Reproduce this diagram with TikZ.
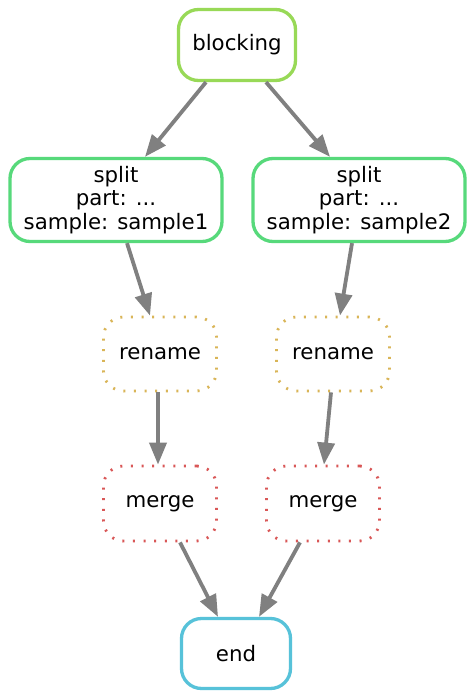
\documentclass[tikz,border=0pt]{standalone}
\usepackage{fontspec}
\setmainfont{DejaVu Sans}
\usetikzlibrary{arrows.meta,calc}
\definecolor{cblock}{RGB}{152,217,87}
\definecolor{csplit}{RGB}{87,217,123}
\definecolor{crename}{RGB}{217,181,87}
\definecolor{cmerge}{RGB}{217,87,87}
\definecolor{cend}{RGB}{87,194,217}
\definecolor{edgegray}{RGB}{128,128,128}
\begin{document}
\begin{tikzpicture}[x=1pt,y=-1pt,
  base/.style={rectangle, rounded corners=20pt, align=center, inner sep=0pt,
    font=\fontsize{21.3}{23.5}\selectfont},
  solidbox/.style={base, draw=#1, line width=3.3pt},
  dotbox/.style={base, draw=#1, line width=2.8pt, dash pattern=on 2pt off 8.6pt},
  edge/.style={draw=edgegray, line width=3.8pt, -{Triangle[length=22pt,width=17pt]}}]
\useasboundingbox[fill=white] (0,0) rectangle (474,700);
\node[solidbox=cblock, minimum width=117pt, minimum height=71pt] (blocking) at (237,45) {blocking};
\node[solidbox=csplit, minimum width=212pt, minimum height=83pt] (split1) at (116,200) {split\\part: ...\\sample: sample1};
\node[solidbox=csplit, minimum width=212pt, minimum height=83pt] (split2) at (359,200) {split\\part: ...\\sample: sample2};
\node[dotbox=crename, minimum width=113pt, minimum height=74pt] (rename1) at (160,354) {rename};
\node[dotbox=crename, minimum width=113pt, minimum height=74pt] (rename2) at (333,354) {rename};
\node[dotbox=cmerge, minimum width=113pt, minimum height=75pt] (merge1) at (160,503.5) {merge};
\node[dotbox=cmerge, minimum width=113pt, minimum height=75pt] (merge2) at (323,503.5) {merge};
\node[solidbox=cend, minimum width=109pt, minimum height=70pt] (end) at (236,653.5) {end};
\draw[edge] ($(blocking.south)+(-31,0)$) -- ($(split1.north)+(29,0)$);
\draw[edge] ($(blocking.south)+(29,0)$) -- ($(split2.north)+(-29,0)$);
\draw[edge] ($(split1.south)+(11,0)$) -- ($(rename1.north)+(-10,0)$);
\draw[edge] ($(split2.south)+(-7,0)$) -- ($(rename2.north)+(7,0)$);
\draw[edge] ($(rename1.south)+(-2,0)$) -- ($(merge1.north)+(-2,0)$);
\draw[edge] ($(rename2.south)+(-2,0)$) -- ($(merge2.north)+(1,0)$);
\draw[edge] ($(merge1.south)+(20,0)$) -- ($(end.north)+(-18,0)$);
\draw[edge] ($(merge2.south)+(-23,0)$) -- ($(end.north)+(23,0)$);
\end{tikzpicture}
\end{document}
